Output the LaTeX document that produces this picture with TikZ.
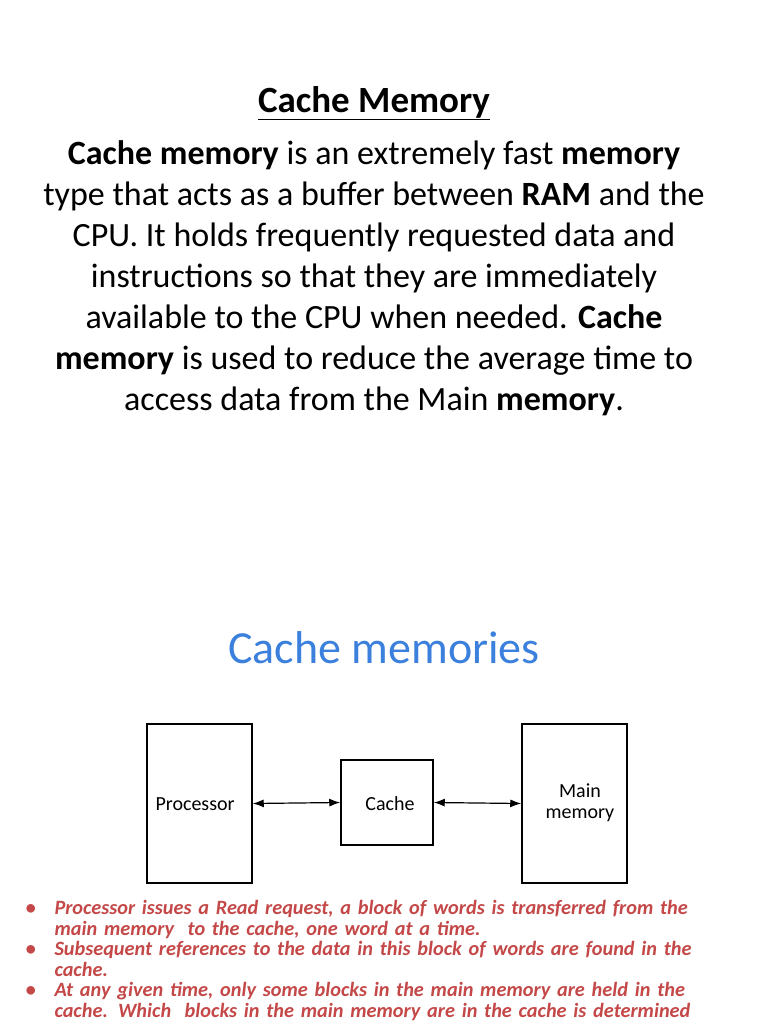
\documentclass[tikz,border=0pt]{standalone}
\usepackage{fontspec}
\setmainfont{Carlito}
\usetikzlibrary{arrows.meta}
\definecolor{redtxt}{RGB}{196,72,72}
\definecolor{bluetxt}{RGB}{58,128,220}
\begin{document}
\begin{tikzpicture}[x=1pt,y=-1pt,
  blk/.style={draw,line width=1.5pt,inner sep=0pt},
  lbl/.style={font=\fontsize{20}{21}\selectfont,align=center},
  body/.style={font=\fontsize{34}{41}\selectfont,align=center,anchor=center},
  link/.style={line width=1.2pt,{Latex[length=11pt,width=8pt]}-{Latex[length=11pt,width=8pt]}},
  bul/.style={font=\fontsize{20.3}{20.5}\selectfont\bfseries\itshape,text=redtxt,anchor=north west,align=left,text width=700pt}]
\useasboundingbox (0,0) rectangle (768,1024);
\node[font=\fontsize{37}{41}\selectfont] (title) at (374,103) {\textbf{\underline{Cache Memory}}};
\node[body] (para) at (374,278) {\textbf{Cache memory} is an extremely fast \textbf{memory}\\
type that acts as a buffer between \textbf{RAM} and the\\
CPU. It holds frequently requested data and\\
instructions so that they are immediately\\
available to the CPU when needed. \textbf{Cache}\\
\textbf{memory} is used to reduce the average time to\\
access data from the Main \textbf{memory}.};
\node[font=\fontsize{46}{50}\selectfont,text=bluetxt] (sub) at (384,648) {Cache memories};
\node[blk,minimum width=105pt,minimum height=159pt] (proc) at (199.5,803.5) {};
\node[blk,minimum width=92pt,minimum height=85pt] (cache) at (387,802.5) {};
\node[blk,minimum width=105pt,minimum height=159pt] (main) at (574.5,803.5) {};
\node[lbl,anchor=west] (tp) at (152,804) {Processor};
\node[lbl] (tc) at (390,804) {Cache};
\node[lbl] (tm) at (580,803) {Main\\memory};
\draw[link] (proc.east) -- (cache.west);
\draw[link] (cache.east) -- (main.west);
\node[bul] (b1) at (22,897) {\raggedright
\makebox[29pt][l]{\textbullet}Processor issues a Read request, a block of words is transferred from the\\
\hspace*{29pt}main memory~ to the cache, one word at a time.\\
\makebox[29pt][l]{\textbullet}Subsequent references to the data in this block of words are found in the\\
\hspace*{29pt}cache.\\
\makebox[29pt][l]{\textbullet}At any given time, only some blocks in the main memory are held in the\\
\hspace*{29pt}cache. Which~ blocks in the main memory are in the cache is determined};
\end{tikzpicture}
\end{document}
